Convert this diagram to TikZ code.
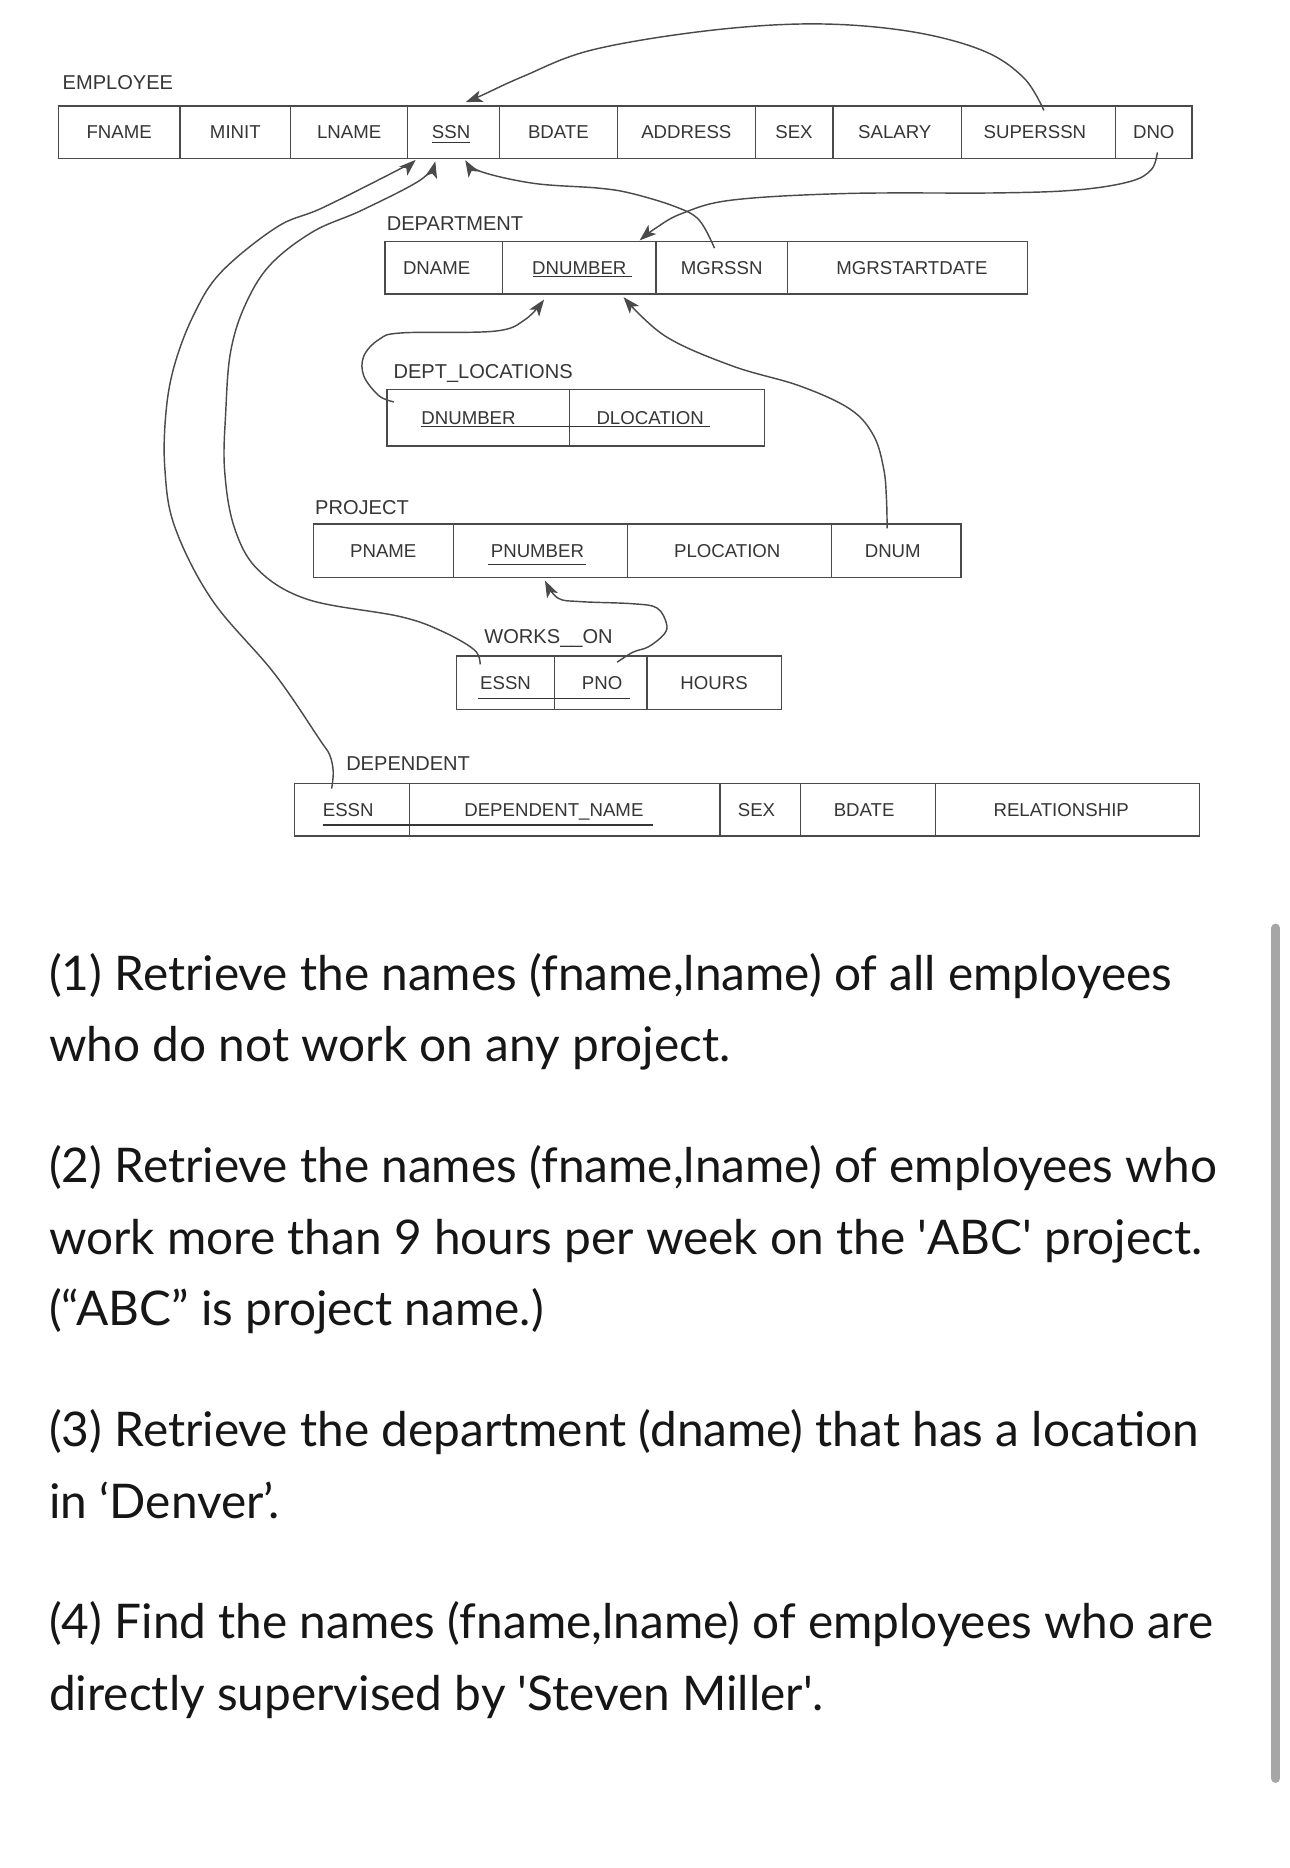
\documentclass[tikz,border=0pt]{standalone}
\usepackage{fontspec}
\setmainfont{Liberation Sans}
\newfontfamily\qfont{Lato}
\usetikzlibrary{arrows.meta}
\definecolor{ink}{HTML}{363636}
\definecolor{lineink}{HTML}{4A4A4A}
\definecolor{qink}{HTML}{161616}
\definecolor{barcol}{HTML}{A6A6A6}
\tikzset{
  cell/.style={draw=lineink, line width=1.1pt, inner sep=0pt, text=ink,
    font=\fontsize{15.6}{18}\selectfont, text height=11.2pt, text depth=0pt},
  lbl/.style={inner sep=0pt, text=ink, font=\fontsize{16.8}{20}\selectfont, anchor=base west},
  ul/.style={draw=ink, line width=1.1pt},
  conn/.style={draw=lineink, line width=1.2pt, -{Stealth[length=14pt,width=10pt,inset=3.5pt]}},
  qline/.style={inner sep=0pt, text=qink, font=\qfont\fontsize{40}{60}\selectfont, anchor=base west}
}
% #1 name, #2 x1, #3 x2, #4 y1, #5 y2, #6 text, #7 kern (2x offset)
\newcommand{\mkcell}[7]{%
  \node[cell, minimum width={(#3-#2)*1pt}, minimum height={(#5-#4)*1pt}] (#1)
    at ({(#2+#3)/2},{(#4+#5)/2}) {\makebox[0pt]{\kern#7pt #6}};}
\begin{document}
\begin{tikzpicture}[x=1pt,y=-1pt]
\useasboundingbox[fill=white] (0,0) rectangle (1080,1564);

% ---------- EMPLOYEE ----------
\node[lbl] (emp-lbl) at (52.3,75.3) {EMPLOYEE};
\mkcell{emp-fname}{48.8}{150.7}{88.7}{132.5}{FNAME}{0}
\mkcell{emp-minit}{150.7}{243.4}{88.7}{132.5}{MINIT}{0}
\mkcell{emp-lname}{243.4}{341.3}{88.7}{132.5}{LNAME}{0}
\mkcell{emp-ssn}{341.3}{418}{88.7}{132.5}{SSN}{-4}
\mkcell{emp-bdate}{418}{517}{88.7}{132.5}{BDATE}{0}
\mkcell{emp-address}{517}{632.3}{88.7}{132.5}{ADDRESS}{0}
\mkcell{emp-sex}{632.3}{697.3}{88.7}{132.5}{SEX}{0}
\mkcell{emp-salary}{697.3}{805}{88.7}{132.5}{SALARY}{-4}
\mkcell{emp-superssn}{805}{934}{88.7}{132.5}{SUPERSSN}{-6}
\mkcell{emp-dno}{934}{998}{88.7}{132.5}{DNO}{0}
\draw[ul] (361.4,119.4) -- (393.5,119.4);

% ---------- DEPARTMENT ----------
\node[lbl] (dep-lbl) at (323.7,192.6) {DEPARTMENT};
\mkcell{dep-dname}{322.3}{420.9}{202.3}{246.2}{DNAME}{-12}
\mkcell{dep-dnumber}{420.9}{549.2}{202.3}{246.2}{DNUMBER}{0}
\mkcell{dep-mgrssn}{549.2}{659.2}{202.3}{246.2}{MGRSSN}{0}
\mkcell{dep-mgrstart}{659.2}{860}{202.3}{246.2}{MGRSTARTDATE}{8}
\draw[ul] (446.5,231.6) -- (528.9,231.6);

% ---------- DEPT_LOCATIONS ----------
\node[lbl] (loc-lbl) at (329.3,317) {DEPT\_LOCATIONS};
\mkcell{loc-dnumber}{323.9}{476.6}{325.9}{373.5}{DNUMBER}{-16}
\mkcell{loc-dloc}{476.6}{640.1}{325.9}{373.5}{DLOCATION}{-28}
\draw[ul] (352.2,357) -- (594.6,357);

% ---------- PROJECT ----------
\node[lbl] (prj-lbl) at (263.7,430.6) {PROJECT};
\mkcell{prj-pname}{262.3}{379.5}{438.8}{483.4}{PNAME}{0}
\mkcell{prj-pnumber}{379.5}{525.5}{438.8}{483.4}{PNUMBER}{-5}
\mkcell{prj-ploc}{525.5}{696.3}{438.8}{483.4}{PLOCATION}{-4}
\mkcell{prj-dnum}{696.3}{804.6}{438.8}{483.4}{DNUM}{-6}
\draw[ul] (408.8,472.5) -- (490.6,472.5);

% ---------- WORKS_ON ----------
\node[lbl] (wo-lbl) at (405.4,538.7) {WORKS\_\_ON};
\mkcell{wo-essn}{382.1}{464.5}{549.3}{594}{ESSN}{0}
\mkcell{wo-pno}{464.5}{541.7}{549.3}{594}{PNO}{2}
\mkcell{wo-hours}{541.7}{654.1}{549.3}{594}{HOURS}{0}
\draw[ul] (400.2,584.8) -- (527.1,584.8);

% ---------- DEPENDENT ----------
\node[lbl] (dp-lbl) at (289.7,644.7) {DEPENDENT};
\mkcell{dp-essn}{246.4}{342.7}{655.8}{700}{ESSN}{-6}
\mkcell{dp-name}{342.7}{602.8}{655.8}{700}{DEPENDENT\_NAME}{-18}
\mkcell{dp-sex}{602.8}{670}{655.8}{700}{SEX}{-6}
\mkcell{dp-bdate}{670}{783}{655.8}{700}{BDATE}{-6}
\mkcell{dp-rel}{783}{1004}{655.8}{700}{RELATIONSHIP}{-10}
\draw[ul] (270.2,690.7) -- (546.4,690.7);

% ---------- connector end points ----------
\coordinate (s-super) at ([shift={(4.5,4.3)}]emp-superssn.north);
\coordinate (t-super) at ([shift={(10.3,-2.7)}]emp-ssn.north);
\coordinate (s-dno) at ([shift={(3,-5.5)}]emp-dno.south);
\coordinate (t-dno) at ([shift={(50.5,-0.5)}]dep-dnumber.north);
\coordinate (s-mgr) at ([shift={(-6,6)}]dep-mgrssn.north);
\coordinate (t-mgr) at ([shift={(9.9,1)}]emp-ssn.south);
\coordinate (s-dep) at ([shift={(-16.9,5)}]dp-essn.north);
\coordinate (t-dep) at ([shift={(-31.6,0.8)}]emp-ssn.south);
\coordinate (s-wo) at ([shift={(-21.3,7.5)}]wo-essn.north);
\coordinate (t-wo) at ([shift={(-15.2,2)}]emp-ssn.south);
\coordinate (s-pno) at ([shift={(13.6,5.7)}]wo-pno.north);
\coordinate (t-pno) at ([shift={(3.8,2.2)}]prj-pnumber.south);
\coordinate (s-loc) at ([shift={(6.4,11.1)}]loc-dnumber.north west);
\coordinate (t-loc) at ([shift={(-29.5,4)}]dep-dnumber.south);
\coordinate (s-dnum) at ([shift={(-7.7,4.2)}]prj-dnum.north);
\coordinate (t-dnum) at ([shift={(37,2)}]dep-dnumber.south);

% ---------- connectors ----------
\draw[conn] plot[smooth, tension=0.6] coordinates {(s-super) (857,65) (822,42) (760,26) (680,20) (590,26) (495,42) (438,64) (403,80) (t-super)};
\draw[conn] plot[smooth, tension=0.6] coordinates {(s-dno) (964,142) (946,152) (902,159) (836,161.5) (709,162) (613,167.5) (571,178.7) (549,191) (t-dno)};
\draw[conn] plot[smooth, tension=0.6] coordinates {(s-mgr) (585.3,184.2) (565.6,173.1) (529,162) (501,157.5) (447.5,153.6) (403,143.8) (t-mgr)};
\draw[conn] plot[smooth, tension=0.6] coordinates {(s-dep) (279,646) (276,632) (268,619.7) (229.7,563.9) (177.6,502.4) (146.3,441) (138,392) (139,345) (146,306) (162,264) (185,228) (232,190) (270,174) (333,142.4) (t-dep)};
\draw[conn] plot[smooth, tension=0.6] coordinates {(s-wo) (397,544) (369,528) (334,516) (258,502) (216,477) (196,441) (188,393) (189,345) (193,295) (205,256) (226,222) (262,194) (303,176) (352,150.7) (t-wo)};
\draw[conn] plot[smooth, tension=0.6] coordinates {(s-pno) (530,546) (543,541.5) (556,531) (558,522) (550,509) (530,505.5) (486,503.7) (467,500.7) (t-pno)};
\draw[conn] plot[smooth, tension=0.6] coordinates {(s-loc) (317.4,331.4) (304.6,314.8) (304.6,298.1) (317.4,284.2) (336.7,278.7) (413.9,277.3) (439.6,267.6) (t-loc)};
\draw[conn] plot[smooth, tension=0.6] coordinates {(s-dnum) (742.2,417.6) (739.9,392.6) (731.5,364.8) (711.8,342.6) (669.6,323.1) (613.4,306.5) (557.1,281.5) (t-dnum)};

% ---------- questions ----------
\node[qline] (q1a) at (41,829) {(1) Retrieve the names (fname,lname) of all employees};
\node[qline] (q1b) at (41,889) {who do not work on any project.};
\node[qline] (q2a) at (41,990) {(2) Retrieve the names (fname,lname) of employees who};
\node[qline] (q2b) at (41,1050) {work more than 9 hours per week on the \textquotesingle ABC\textquotesingle{} project.};
\node[qline] (q2c) at (41,1110) {(“ABC” is project name.)};
\node[qline] (q3a) at (41,1211) {(3) Retrieve the department (dname) that has a location};
\node[qline] (q3b) at (41,1271) {in ‘Denver’.};
\node[qline] (q4a) at (41,1372) {(4) Find the names (fname,lname) of employees who are};
\node[qline] (q4b) at (41,1432) {directly supervised by \textquotesingle Steven Miller\textquotesingle.};

% ---------- scroll bar ----------
\draw[barcol, line width=7.5pt, line cap=round] (1068,777) -- (1068,1489);
\end{tikzpicture}
\end{document}
